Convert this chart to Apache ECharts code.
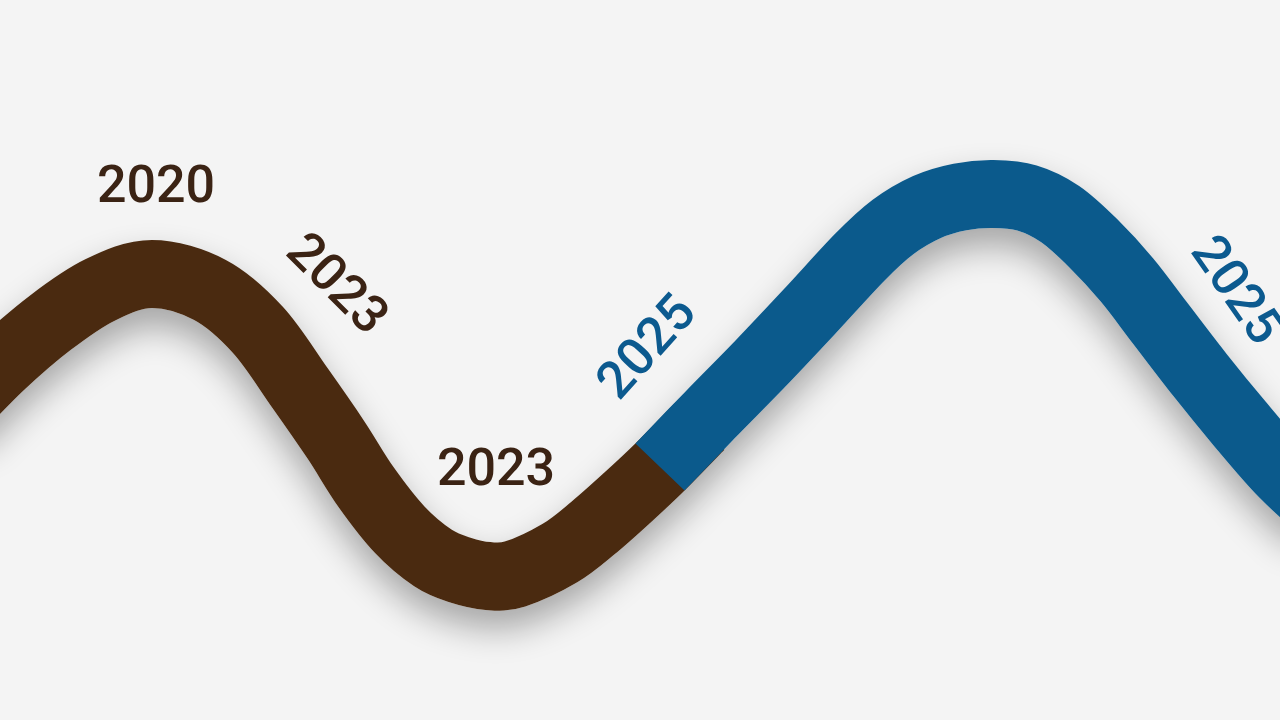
<!DOCTYPE html>
<html>
<head>
<meta charset="utf-8">
<script src="https://cdn.jsdelivr.net/npm/echarts@6/dist/echarts.min.js"></script>
<style>
  html, body { margin: 0; padding: 0; background: #f4f4f4; }
  #chart { width: 1280px; height: 720px; }
</style>
</head>
<body>
<div id="chart"></div>
<script>
// Ribbon centre line, brown segment (x, y in the chart's own value space)
const brownX = [-45, 0, 50, 100, 152, 210, 258, 300, 336, 366, 400, 433, 460, 488, 515, 560, 593, 627, 660, 700];
const brownY = [412, 366, 323, 290, 274, 290, 330, 388, 440, 487, 530, 558, 570, 576, 574, 553, 528, 498, 467, 426];
// Ribbon centre line, blue segment
const blueX = [660, 710, 760, 810, 860, 893, 927, 960, 993, 1027, 1060, 1093, 1127, 1160, 1200, 1240, 1280, 1320];
const blueY = [467, 415, 364, 311, 257, 227, 207, 197, 194, 198, 214, 243, 280, 323, 375, 424, 470, 508];
// Year labels and their anchor points
const labelText = ['2020', '2023', '2023', '2025', '2025'];
const labelX = [156, 335, 496, 649, 1234];
const labelY = [189, 286, 472, 349, 292];

const BG = '#f4f4f4';
const BROWN = '#4a2a10';
const BROWN_TEXT = '#3b2314';
const BLUE = '#0b5a8c';
const BLUE_TEXT = '#0c5a8f';
const labelRotate = [0, -45, 0, 48, -55];
const labelColor = [BROWN_TEXT, BROWN_TEXT, BROWN_TEXT, BLUE_TEXT, BLUE_TEXT];

const zip = (xs, ys) => xs.map((x, i) => [x, ys[i]]);
const brownData = zip(brownX, brownY);
const blueData = zip(blueX, blueY);
// shadow path: the whole ribbon (brown without its hidden overlap, then blue)
const shadowData = brownData.slice(0, brownData.length - 2).concat(blueData);

// ribbons drawn in order: shadow, brown, blue
const ribbons = [
  { pts: shadowData, color: BG, shadow: true },
  { pts: brownData, color: BROWN, shadow: false },
  { pts: blueData, color: BLUE, shadow: false }
];

// smooth Catmull-Rom path through pixel points
function splinePath(p) {
  let d = 'M' + p[0][0] + ' ' + p[0][1];
  for (let i = 0; i < p.length - 1; i++) {
    const p0 = p[Math.max(i - 1, 0)], p1 = p[i], p2 = p[i + 1], p3 = p[Math.min(i + 2, p.length - 1)];
    const c1x = p1[0] + (p2[0] - p0[0]) / 6, c1y = p1[1] + (p2[1] - p0[1]) / 6;
    const c2x = p2[0] - (p3[0] - p1[0]) / 6, c2y = p2[1] - (p3[1] - p1[1]) / 6;
    d += ' C' + c1x + ' ' + c1y + ' ' + c2x + ' ' + c2y + ' ' + p2[0] + ' ' + p2[1];
  }
  return d;
}

const chart = echarts.init(document.getElementById('chart'));
chart.setOption({
  backgroundColor: BG,
  animation: false,
  grid: { left: 0, right: 0, top: 0, bottom: 0 },
  xAxis: { type: 'value', min: 0, max: 1280, show: false },
  yAxis: { type: 'value', min: 0, max: 720, inverse: true, show: false },
  series: [
    {
      type: 'custom', silent: true, z: 1, clip: true,
      data: ribbons.map((r, i) => ({ value: [r.pts[0][0], r.pts[0][1], i] })),
      renderItem: function (params, api) {
        const r = ribbons[params.dataIndex];
        const px = r.pts.map(pt => api.coord(pt));
        const style = {
          fill: null, stroke: r.color, lineWidth: 68, lineCap: 'butt', lineJoin: 'round'
        };
        if (r.shadow) {
          style.shadowColor = 'rgba(0,0,0,0.32)';
          style.shadowBlur = 34;
          style.shadowOffsetY = 18;
        }
        return { type: 'path', shape: { pathData: splinePath(px) }, style: style };
      }
    },
    {
      type: 'scatter', z: 4, symbolSize: 0, silent: true,
      data: labelText.map((t, i) => ({
        name: t,
        value: [labelX[i], labelY[i]],
        itemStyle: { color: labelColor[i] },
        label: { rotate: labelRotate[i], color: labelColor[i] }
      })),
      label: {
        show: true, position: 'inside', formatter: '{b}',
        fontFamily: 'Roboto', fontWeight: 500, fontSize: 52,
        align: 'center', verticalAlign: 'middle',
        textBorderWidth: 0, opacity: 1
      }
    }
  ]
});
</script>
</body>
</html>
